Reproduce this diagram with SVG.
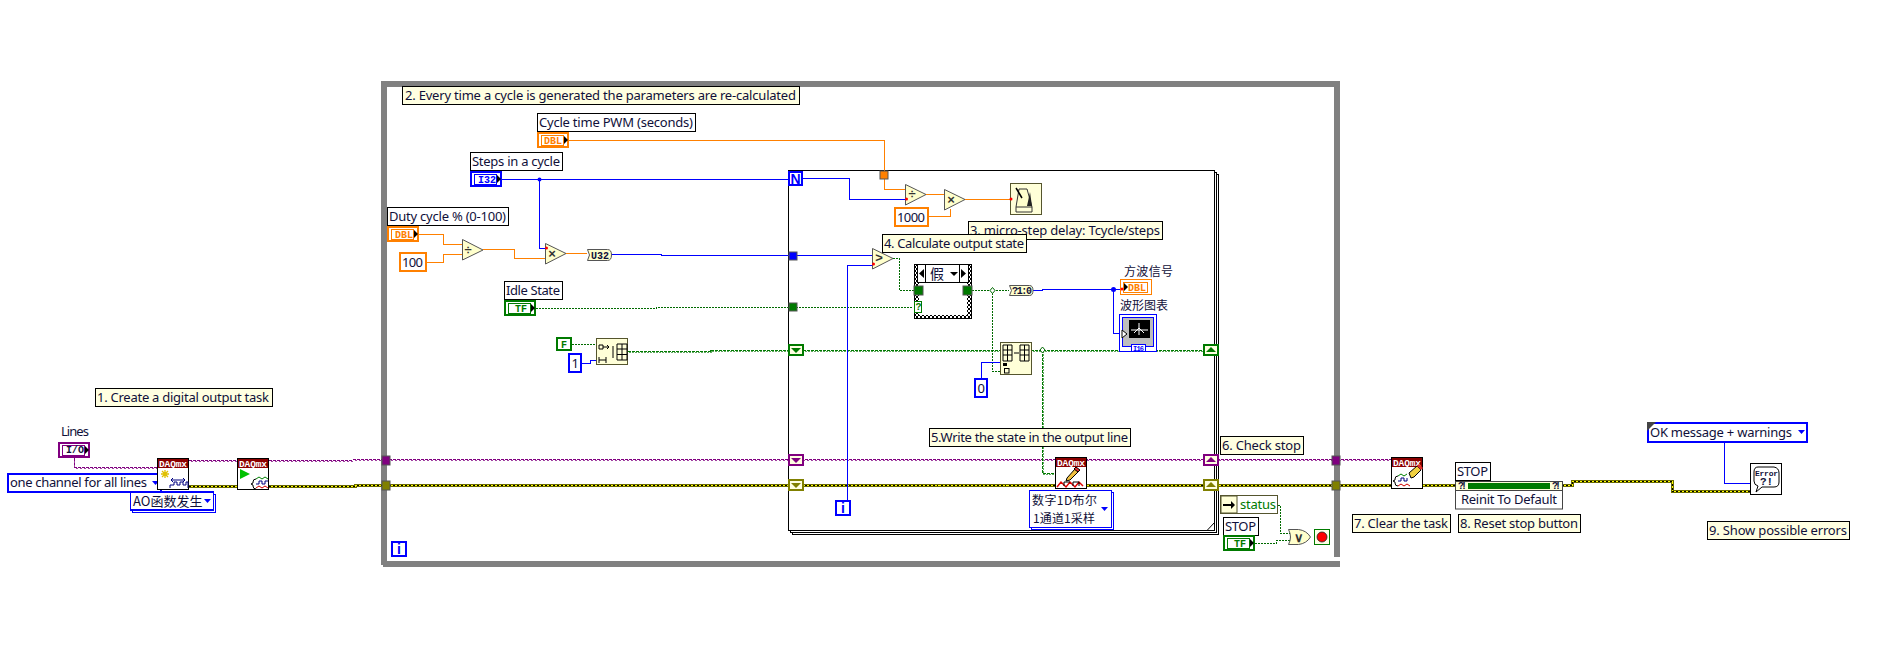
<svg xmlns="http://www.w3.org/2000/svg" xmlns:xlink="http://www.w3.org/1999/xlink" width="1899" height="656" viewBox="0 0 1899 656">
<style>
text{font-family:"Noto Sans","Noto Sans CJK SC",sans-serif;font-size:13px;fill:#10103a}
.cjk{font-family:"Noto Sans CJK SC","Noto Sans",sans-serif;font-size:12px}
.note{fill:#ffffe1;stroke:#000;stroke-width:1;shape-rendering:crispEdges}
.lab{fill:#fff;stroke:#000;stroke-width:1;shape-rendering:crispEdges}
.wb,.wo,.wg,.ta,.tb,.ea,.eb,.ec,.aa,.ab{fill:none;shape-rendering:crispEdges}
.wb{stroke:#0000ff;stroke-width:1}
.wo{stroke:#ff8000;stroke-width:1}
.wg{stroke:#006a00;stroke-width:1;stroke-dasharray:2 1}
.ta{stroke:#800080;stroke-width:1;stroke-dasharray:3 1}
.tb{stroke:#a040a0;stroke-width:1;stroke-dasharray:2 2;stroke-dashoffset:2}
.ea{stroke:#6b6b00;stroke-width:3}
.eb{stroke:#ffff00;stroke-width:1}
.ec{stroke:#000;stroke-width:1;stroke-dasharray:2 2}
.aa{stroke:#007a00;stroke-width:1;stroke-dasharray:3 1}
.ab{stroke:#60a860;stroke-width:1;stroke-dasharray:2 1}
.loop{fill:#808080}
.frame{fill:#fff;stroke:#000;stroke-width:1;shape-rendering:crispEdges}
.prim{fill:#ffffcc;stroke:#555;stroke-width:1}
.icon{fill:#fff;stroke:#000;stroke-width:1.5;shape-rendering:crispEdges}
.fn{fill:#ffffd8;stroke:#55552e;stroke-width:1.5;shape-rendering:crispEdges}
.band{fill:#8b0000}
.daq{font-family:"Liberation Mono",monospace;font-size:9.5px;font-weight:bold;fill:#fff}
.term{font-family:"Liberation Mono",monospace;font-size:10px;font-weight:bold}
.bold{font-family:"Liberation Sans",sans-serif;font-size:14px;font-weight:bold}
.sym{font-family:"Liberation Sans",sans-serif;font-size:13px;font-weight:bold;fill:#333;text-anchor:middle}
.blue{stroke:#0000ff}.orange{stroke:#ff8000}.green{stroke:#007a00}.purple{stroke:#800080}.olive{stroke:#808000}
.ctl{fill:#fff;stroke-width:2;shape-rendering:crispEdges}
.inner{fill:#fff;stroke-width:1;shape-rendering:crispEdges}
.const{fill:#fff;stroke-width:2.5;shape-rendering:crispEdges}
.ring{fill:#fff;stroke:#0000ff;stroke-width:1.5;shape-rendering:crispEdges}
.ring3{fill:#fff;stroke:#0000ff;stroke-width:2.5;shape-rendering:crispEdges}
.sr{fill:#ffffe1;stroke-width:2;shape-rendering:crispEdges}
.t-blue{fill:#0000ff}.t-orange{fill:#ff8000}.t-green{fill:#007a00}
.k{fill:#000}.red{fill:#ff0000}
.ln{fill:none;stroke:#000;stroke-width:1}
</style>
<defs>
<pattern id="chk" width="4" height="4" patternUnits="userSpaceOnUse"><rect width="4" height="4" fill="#fff"/><rect width="2" height="2" fill="#000"/><rect x="2" y="2" width="2" height="2" fill="#000"/></pattern>
<path id="task" d="M74.500 458V467H157M189 460H237M269 460H353V459.500H1391"/>
<path id="err" d="M189 486H237M269 486H355V485.500H1455M1562 485.500H1572V481.500H1672V491.500H1750"/>
<path id="arr" d="M628 351H710V350H1203M1042 350V473H1056"/>
<polygon id="dn" points="-5,0 5,0 0,5"/>
<polygon id="up" points="-5,5 5,5 0,0"/>
</defs>
<rect width="1899" height="656" fill="#fff"/>

<g id="while-loop">
<rect class="loop" x="381" y="81" width="959" height="6"/>
<rect class="loop" x="381" y="81" width="6" height="484"/>
<rect class="loop" x="1334" y="81" width="6" height="476"/>
<rect class="loop" x="383" y="561" width="957" height="6"/>
</g>
<g id="for-loop">
<rect class="frame" x="792.500" y="174.500" width="426" height="360"/>
<rect class="frame" x="790.500" y="172.500" width="426" height="360"/>
<rect class="frame" x="788.500" y="170.500" width="426" height="360"/>
<path class="ln" d="M1207 530.500L1215 522"/>
</g>

<g id="connectors">
<use href="#task" class="ta"/><use href="#task" class="tb" transform="translate(0,1)"/>
<use href="#err" class="ea"/><use href="#err" class="eb"/><use href="#err" class="ec"/>
<use href="#arr" class="aa"/><use href="#arr" class="ab" transform="translate(1,1)"/>
<path class="wg" d="M536 308.500H656V307.500H913M893 258.500H899.500V290.500H1009M992.500 290V371.500H1000M572 344.500H596M1278 505.500H1280.500V533.500H1290M1255 543.500H1276V540.500H1290"/>
<path class="wo" d="M569 140.500H884.500V189.500H905M419 234.500H443V244.500H462M427 262.500H443V254.500H462M483 249.500H514V258.500H545M566 253.500H587M926 194.500H944M965 199.500H1010M928 216.500H950V209"/>
<path class="wb" d="M502 179.500H788M539.500 179.500V248.500H545M612 254.500H661V255.500H872M803 178.500H849.500V199.500H905M847.500 500V265.500H872M582 363.500H590.500V360.500H596M1033 290.500H1042V289.500H1120M1113.500 289.500V333.500H1123M981.500 378V362.500H1000M1724.500 443V483.500H1750"/>
<circle cx="539.500" cy="179.500" r="2" fill="#0000ff"/>
<circle cx="1113.500" cy="289.500" r="2.500" fill="#0000ff"/>
<path d="M992.500 287.500l2.500 3l-2.500 3l-2.500-3z" fill="#fff" stroke="#006a00"/>
<path d="M1042.500 347l2.500 3l-2.500 3l-2.500-3z" fill="#fff" stroke="#006a00"/>
</g>

<g id="tunnels">
<rect x="382" y="456" width="8" height="9" fill="#800080" stroke="#555"/>
<rect x="382" y="481" width="8" height="9" fill="#808000" stroke="#555"/>
<rect x="1332" y="456" width="8" height="9" fill="#800080" stroke="#555"/>
<rect x="1332" y="481" width="8" height="9" fill="#808000" stroke="#555"/>
<rect x="880" y="171" width="8" height="8" fill="#ff8000" stroke="#555"/>
<rect x="789" y="252" width="8" height="8" fill="#0000ff" stroke="#555"/>
<rect x="789" y="303" width="8" height="8" fill="#007a00" stroke="#555"/>
</g>
<g id="n-terminal"><rect class="const blue" x="789" y="172" width="13" height="13"/><text class="bold t-blue" x="790.500" y="184" textLength="10">N</text></g>
<g id="shift-registers">
<rect class="sr green" x="789" y="345" width="14" height="10"/><use href="#dn" x="796" y="348" fill="#007a00"/>
<rect class="sr purple" x="789" y="455" width="14" height="10"/><use href="#dn" x="796" y="458" fill="#800080"/>
<rect class="sr olive" x="789" y="480" width="14" height="10"/><use href="#dn" x="796" y="483" fill="#808000"/>
<rect class="sr green" x="1204" y="345" width="14" height="10"/><use href="#up" x="1211" y="347" fill="#007a00"/>
<rect class="sr purple" x="1204" y="455" width="14" height="10"/><use href="#up" x="1211" y="457" fill="#800080"/>
<rect class="sr olive" x="1204" y="480" width="14" height="10"/><use href="#up" x="1211" y="482" fill="#808000"/>
</g>

<g id="note-1"><rect class="note" x="95.500" y="388.500" width="177" height="18"/><text x="97" y="402" textLength="172">1. Create a digital output task</text></g>
<g id="lines-control">
<text x="61" y="436" textLength="28">Lines</text>
<rect class="ctl purple" x="59" y="443" width="30" height="14"/><rect class="inner purple" x="62" y="445" width="22" height="10"/>
<text class="term" x="66" y="453" fill="#333">I/O</text><path class="k" d="M85 446l4 4l-4 4z"/>
</g>
<g id="channel-ring"><rect class="ring3" x="8" y="474" width="153" height="18"/><text x="10" y="487" textLength="137">one channel for all lines</text><path class="t-blue" d="M152 481h7l-3.500 4z"/></g>
<g id="ao-ring"><rect class="ring" x="132.500" y="494.500" width="83" height="18"/><rect class="ring" x="130.500" y="492" width="83" height="18"/><text class="cjk" x="133" y="506" style="font-size:13px">AO函数发生</text><path class="t-blue" d="M204 499h7l-3.500 4z"/></g>
<g id="daq-create"><rect class="icon" x="157.500" y="458.500" width="31" height="31"/><rect class="band" x="158" y="459" width="30" height="9"/><text class="daq" x="159" y="467" textLength="28">DAQmx</text>
<path d="M165 470v8M161 474h8M162 471l6 6M168 471l-6 6" stroke="#e0c000" stroke-width="1.300" fill="none"/><path d="M171 480h14M171 480l2-2M171 480l2 2M185 480l-2-2M185 480l-2 2M170 488v-3h4v-3h3v3h3v-3h3v3h3v-3h2v6" stroke="#000080" fill="none"/></g>
<g id="daq-start"><rect class="icon" x="237.500" y="458.500" width="31" height="31"/><rect class="band" x="238" y="459" width="30" height="9"/><text class="daq" x="239" y="467" textLength="28">DAQmx</text>
<polygon points="240,469 250,474 240,479" fill="#00c000"/><path d="M256 479q-3 0-3 3v1l-2 1l2 1v1q0 3 3 3" class="ln"/><path d="M256 479l3-2l3 2l3-2l3 2" stroke="#008000" fill="none"/><path d="M256 484h3v-3h3v3h3v-3h3" stroke="#000080" fill="none"/><path d="M256 488l3-2l3 2l3-2l3 2" stroke="#d00000" fill="none"/></g>

<g id="note-2"><rect class="note" x="402.500" y="86.500" width="397" height="18"/><text x="405" y="100" textLength="391">2. Every time a cycle is generated the parameters are re-calculated</text></g>
<g id="cycle-time">
<rect class="lab" x="537.500" y="113.500" width="158" height="18"/><text x="539" y="127" textLength="154">Cycle time PWM (seconds)</text>
<rect class="ctl orange" x="538" y="133" width="30" height="14"/><rect class="inner orange" x="541" y="135" width="22" height="10"/><text class="term t-orange" x="544" y="144">DBL</text><path class="k" d="M564 136l4 4l-4 4z"/>
</g>
<g id="steps">
<rect class="lab" x="470.500" y="152.500" width="92" height="18"/><text x="472" y="166" textLength="88">Steps in a cycle</text>
<rect class="ctl blue" x="471" y="172" width="30" height="14"/><rect class="inner blue" x="474" y="174" width="22" height="10"/><text class="term t-blue" x="478" y="183">I32</text><path class="k" d="M497 175l4 4l-4 4z"/>
</g>
<g id="duty">
<rect class="lab" x="387.500" y="207.500" width="121" height="18"/><text x="389" y="221" textLength="117">Duty cycle % (0-100)</text>
<rect class="ctl orange" x="388" y="227" width="30" height="14"/><rect class="inner orange" x="391" y="229" width="22" height="10"/><text class="term t-orange" x="395" y="238">DBL</text><path class="k" d="M414 230l4 4l-4 4z"/>
</g>
<g id="const-100"><rect class="const orange" x="400" y="253" width="26" height="18"/><text x="402" y="267" textLength="21">100</text></g>
<g id="divide-1"><polygon class="prim" points="462.500,239.500 483,250 462.500,260"/><text class="sym" x="468" y="254">÷</text></g>
<g id="multiply-1"><polygon class="prim" points="545.500,243.500 566,253.500 545.500,264"/><text class="sym" x="552" y="258">×</text><circle class="red" cx="546.500" cy="248" r="1.500"/></g>
<g id="to-u32"><path class="prim" d="M587.500 249.500h20q4 0 4 5.500t-4 5.500h-20l2-5.500z"/><text class="term" x="591" y="259" fill="#333">U32</text></g>
<g id="idle">
<rect class="lab" x="504.500" y="281.500" width="58" height="17.500"/><text x="506" y="295" textLength="54">Idle State</text>
<rect class="ctl green" x="505" y="301" width="30" height="14"/><rect class="inner green" x="508" y="303" width="22" height="10"/><text class="term t-green" x="515" y="312">TF</text><path class="k" d="M531 304l4 4l-4 4z"/>
</g>
<g id="const-f"><rect class="const green" x="557" y="338" width="14" height="12"/><text class="term t-green" x="561" y="348">F</text></g>
<g id="const-1"><rect class="const blue" x="569" y="354" width="12" height="18"/><text x="571.500" y="368">1</text></g>
<g id="init-array"><rect class="fn" x="596.500" y="338.500" width="31" height="26"/>
<path class="ln" d="M599 345h4v4h-4zM603 347h6M607 345l2 2l-2 2M599 357v6M599 360h7M606 357v6M617 344h10v16h-10zM617 349h10M617 354.500h10M622 344v16M613 346v12"/></g>

<g id="divide-2"><polygon class="prim" points="905.500,184.500 926,194.500 905.500,205"/><text class="sym" x="912" y="198">÷</text><circle class="red" cx="906.500" cy="199" r="1.500"/></g>
<g id="multiply-2"><polygon class="prim" points="944.500,189.500 965,199.500 944.500,210"/><text class="sym" x="951" y="204">×</text></g>
<g id="const-1000"><rect class="const orange" x="895" y="208" width="33" height="18"/><text x="897" y="222" textLength="28">1000</text></g>
<g id="wait"><rect class="fn" x="1010.500" y="183.500" width="31" height="31"/><path d="M1019 189l-3 18h16l-5-18z" fill="#ffffcc" stroke="#333"/><path d="M1016 188l6 10" stroke="#000" stroke-width="1.500"/><path d="M1030 192l2 14h-5z" fill="#222"/><path d="M1016 207v5h16v-5" fill="none" stroke="#333"/><circle class="red" cx="1011" cy="199" r="1.500"/></g>
<g id="note-3"><rect class="note" x="968.500" y="221.500" width="194" height="18"/><text x="970" y="235" textLength="190">3. micro-step delay: Tcycle/steps</text></g>
<g id="greater"><polygon class="prim" points="872.500,248.500 893,258.500 872.500,269"/><text class="sym" x="879" y="262">&gt;</text><circle class="red" cx="873.500" cy="264" r="1.500"/></g>
<g id="note-4"><rect class="note" x="882.500" y="234.500" width="144" height="17.500"/><text x="884" y="248" textLength="140">4. Calculate output state</text></g>
<g id="case">
<rect x="914.500" y="264.500" width="57" height="54" fill="url(#chk)" stroke="#000"/>
<rect x="919" y="283" width="48" height="32" fill="#fff"/>
<rect x="917.500" y="264.500" width="51" height="18" fill="#fff" stroke="#000"/>
<path class="ln" d="M925.500 264.500v18M959.500 264.500v18"/>
<path class="k" d="M924 269v9l-5-4.500zM961 269v9l5-4.500zM950 272h8l-4 4z"/>
<text class="cjk" x="930" y="279" style="font-size:14px">假</text>
<rect x="914" y="286" width="9" height="9" fill="#007a00" stroke="#555"/>
<rect x="963" y="286" width="9" height="9" fill="#007a00" stroke="#555"/>
<rect x="914.500" y="301.500" width="7" height="11" fill="#fff" stroke="#007a00"/><text class="term t-green" x="915.500" y="310">?</text>
</g>
<g id="to-int"><path class="prim" d="M1009.500 285.500h20q3.500 0 3.500 5t-3.500 5h-20l2-5z"/><text class="term" x="1012" y="294" fill="#333" textLength="20">?1:0</text></g>
<g id="square-wave">
<text class="cjk" x="1124" y="276" textLength="49">方波信号</text>
<rect class="inner orange" x="1120.500" y="279.500" width="31" height="15"/><rect class="inner orange" x="1123" y="282" width="24" height="10"/><text class="term t-orange" x="1128" y="291">DBL</text><path class="k" d="M1124 283l4 4l-4 4z"/><circle class="red" cx="1122" cy="289" r="1.500"/>
</g>
<g id="chart">
<text class="cjk" x="1120" y="310" textLength="48">波形图表</text>
<rect class="inner blue" x="1119.500" y="314.500" width="37" height="37"/>
<rect x="1122.500" y="317.500" width="31" height="29" fill="#bdbdbd" stroke="#0000ff"/>
<rect x="1129" y="320" width="21" height="18" fill="#000"/>
<path d="M1131 330h17M1139 323v12M1134 333l5-5l5 5" stroke="#fff" fill="none"/>
<rect class="inner blue" x="1131.500" y="344.500" width="14" height="7"/>
<text class="term t-blue" x="1133" y="351" style="font-size:7px" textLength="11">I16</text>
<polygon points="1122,330 1127,334 1122,338" fill="#fff" stroke="#000"/>
</g>
<g id="replace-array"><rect class="fn" x="1000.500" y="342.500" width="31" height="32"/>
<path class="ln" d="M1003 345h9v16h-9zM1003 350h9M1003 355h9M1007.500 345v16M1020 345h9v16h-9zM1020 350h9M1020 355h9M1024.500 345v16M1014 353h5"/><rect x="1003" y="363" width="4" height="3" fill="#000"/><rect x="1004.500" y="368.500" width="4.500" height="4.500" class="ln"/></g>
<g id="const-0"><rect class="const blue" x="975" y="379" width="12" height="18"/><text x="977.500" y="393">0</text></g>
<g id="note-5"><rect class="note" x="929.500" y="428.500" width="201" height="18"/><text x="931" y="442" textLength="197">5.Write the state in the output line</text></g>
<g id="daq-write"><rect class="icon" x="1055.500" y="457.500" width="31" height="31"/><rect class="band" x="1056" y="458" width="30" height="9"/><text class="daq" x="1057" y="466" textLength="28">DAQmx</text>
<path d="M1067 478l8-9l3 3l-8 8l-4 1z" fill="#f0c040" stroke="#000"/><path d="M1074 469l2-2l4 3l-2 2z" fill="#e03030" stroke="#000"/><path d="M1057 487l4-5l5 5l4-5l5 5l4-5l4 4" stroke="#e00000" stroke-width="1.500" fill="none"/><path d="M1064 486v-4h6M1073 486v-4h6v4" stroke="#000" fill="none"/></g>
<g id="write-ring"><rect class="ring" x="1031.500" y="492.500" width="82" height="37"/><rect class="ring" x="1029.500" y="490.500" width="82" height="37"/>
<text class="cjk" x="1032" y="505" textLength="65">数字1D布尔</text><text class="cjk" x="1033" y="523" textLength="62">1通道1采样</text><path class="t-blue" d="M1101 507h7l-3.500 4z"/></g>
<g id="i-inner"><rect class="const blue" x="836" y="501" width="14" height="14"/><text class="bold t-blue" x="841" y="513">i</text></g>
<g id="i-outer"><rect class="const blue" x="392" y="542" width="14" height="14"/><text class="bold t-blue" x="397" y="554">i</text></g>

<g id="note-6"><rect class="note" x="1220.500" y="436.500" width="83" height="18"/><text x="1222" y="450" textLength="79">6. Check stop</text></g>
<g id="status"><rect x="1220.500" y="495.500" width="57" height="18" fill="#fff" stroke="#55552e"/><rect x="1221" y="496" width="16" height="17" fill="#ffffd8" stroke="#55552e"/><path d="M1223 504h8v-3l4 4l-4 4v-3h-8z" class="k"/><text class="t-green" x="1240" y="509" textLength="36">status</text></g>
<g id="stop-control">
<rect class="lab" x="1223.500" y="517.500" width="35" height="17.500"/><text x="1225" y="531" textLength="31">STOP</text>
<rect class="ctl green" x="1224" y="536" width="30" height="14"/><rect class="inner green" x="1227" y="538" width="22" height="10"/><text class="term t-green" x="1234" y="547">TF</text><path class="k" d="M1250 539l4 4l-4 4z"/>
</g>
<g id="or"><path class="prim" d="M1288.500 529.500h10q8 1 12 7.500q-4 6.500-12 7.500h-10q4-7.500 0-15z"/><text class="sym" x="1299" y="542">∨</text></g>
<g id="stop-term"><rect x="1314.500" y="529.500" width="15" height="15" fill="#ffffe8" stroke="#007a00"/><circle cx="1322" cy="537" r="5" fill="#ff0000" stroke="#222" stroke-width="0.800"/></g>

<g id="daq-clear"><rect class="icon" x="1391.500" y="457.500" width="31" height="31"/><rect class="band" x="1392" y="458" width="30" height="9"/><text class="daq" x="1393" y="466" textLength="28">DAQmx</text>
<path d="M1409 473l8-7l4 4l-7 7l-3 1z" fill="#f0d040" stroke="#000"/><path d="M1417 466l2-2l4 4l-2 2z" fill="#e03030"/><path d="M1398 476q-3 0-3 3v1l-2 1l2 1v1q0 3 3 3" class="ln"/><path d="M1398 476l3-2l3 2l3-2" stroke="#008000" fill="none"/><path d="M1398 481h3v-3h3v3h3v-3" stroke="#000080" fill="none"/><path d="M1398 486l3-2l3 2l3-2l3 2" stroke="#d00000" fill="none"/></g>
<g id="note-7"><rect class="note" x="1352.500" y="514.500" width="98" height="18"/><text x="1354" y="528" textLength="94">7. Clear the task</text></g>
<g id="stop-prop">
<rect class="lab" x="1455.500" y="462.500" width="34.500" height="18"/><text x="1457" y="476" textLength="31">STOP</text>
<rect x="1455.500" y="481.500" width="107" height="9" fill="#ffffd8" stroke="#444"/>
<rect x="1455.500" y="490.500" width="107" height="18.500" fill="#fff" stroke="#444"/>
<rect x="1468" y="483" width="82" height="6" fill="#007a00"/>
<text class="term" x="1458" y="489" fill="#000" textLength="9">?!</text><text class="term" x="1552" y="489" fill="#000" textLength="9">?!</text>
<text x="1461" y="504" textLength="96">Reinit To Default</text>
</g>
<g id="note-8"><rect class="note" x="1458.500" y="514.500" width="122" height="18"/><text x="1460" y="528" textLength="118">8. Reset stop button</text></g>
<g id="ok-ring"><rect class="ring3" x="1648" y="423" width="159" height="19"/><path d="M1647 422h9l-9 9z" fill="#444"/><text x="1650" y="437" textLength="142">OK message + warnings</text><path class="t-blue" d="M1798 430h7l-3.500 4z"/></g>
<g id="error-node"><rect class="icon" x="1750.500" y="463.500" width="31" height="31"/><path d="M1758 467h16q5 1 5 6v9q0 5-5 5h-12l-6 5l2-6q-4-1-4-5v-9q0-5 4-5z" fill="#fff" stroke="#000"/><text class="term" x="1755" y="476" fill="#000" style="font-size:8px" textLength="23">Error</text><text class="term" x="1760" y="485" fill="#000" style="font-size:11px" textLength="13">?!</text></g>
<g id="note-9"><rect class="note" x="1707.500" y="521.500" width="142" height="18"/><text x="1709" y="535" textLength="138">9. Show possible errors</text></g>
</svg>
